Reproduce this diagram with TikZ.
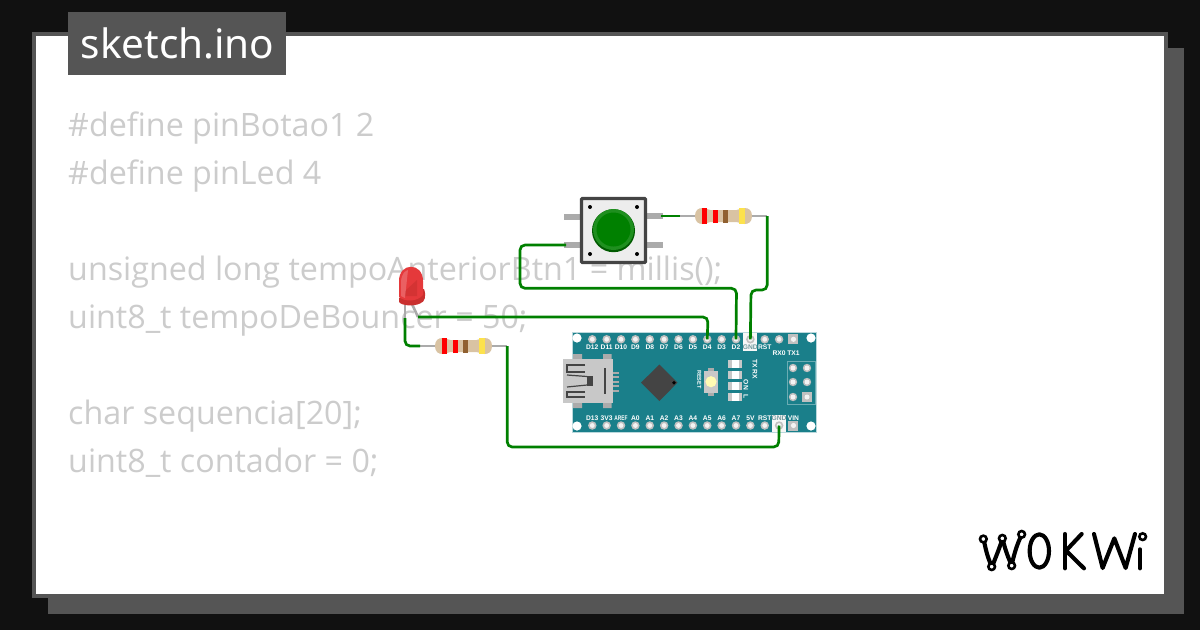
\documentclass[tikz,border=0pt]{standalone}
\usepackage{fontspec}
\setmainfont{Open Sans}
\newfontfamily\lblfont{Liberation Sans}
\newfontfamily\tagfont{Noto Sans}
\definecolor{bgdark}{HTML}{111111}
\definecolor{frame}{HTML}{555555}
\definecolor{codegray}{HTML}{CCCCCC}
\definecolor{board}{HTML}{1A7F8A}
\definecolor{wiregreen}{HTML}{008000}
\definecolor{lead}{HTML}{ABABAB}
\definecolor{resbody}{HTML}{D9C3A3}
\definecolor{chip}{HTML}{444444}
\definecolor{usb}{HTML}{C8C8C8}
\definecolor{leddome}{HTML}{E5393B}
\definecolor{ledbase}{HTML}{C9302F}
\tikzset{
  x=1pt,y=-1pt,
  wire/.style={draw=wiregreen,line width=2.7pt,rounded corners=5pt},
  code/.style={anchor=base west,inner sep=0pt,text=codegray,font=\fontsize{32.25}{32.25}\selectfont},
  pin/.style={circle,inner sep=0pt,minimum size=8.5pt,fill=lead!75!white,draw=none},
  lbl/.style={inner sep=0pt,text=white,font=\lblfont\bfseries\fontsize{6.7}{6.7}\selectfont},
  reslead/.style={draw=lead,line width=2.5pt},
  logo/.style={draw=black,line width=4.1pt,line cap=round,line join=round},
  ring/.style={draw=black,line width=2.6pt,fill=white},
}
\newcommand{\resistorpart}[3]{%
  \node[inner sep=0pt,minimum width=57pt,minimum height=16pt] (#1) at (#2,#3) {};
  \coordinate (#1l) at (#2-43.5,#3);
  \coordinate (#1r) at (#2+43.7,#3);
  \begin{scope}[shift={(#2,#3)}]
    \draw[reslead] (-43.5,0) -- (43.7,0);
    \fill[resbody] (-28.5,0) .. controls (-28.5,-6) and (-25,-8) .. (-21,-8)
      .. controls (-17,-8) and (-16,-6) .. (-13,-6) -- (13,-6)
      .. controls (16,-6) and (17,-8) .. (21,-8)
      .. controls (25,-8) and (28.5,-6) .. (28.5,0)
      .. controls (28.5,6) and (25,8) .. (21,8)
      .. controls (17,8) and (16,6) .. (13,6) -- (-13,6)
      .. controls (-16,6) and (-17,8) .. (-21,8)
      .. controls (-25,8) and (-28.5,6) .. (-28.5,0) -- cycle;
    \fill[red] (-21.5,-8) rectangle (-16.5,8);
    \fill[red] (-10.5,-6.5) rectangle (-5.5,6.5);
    \fill[brown!75!black] (-0.5,-6.5) rectangle (4.5,6.5);
    \fill[yellow!75!orange!70!white] (15.5,-8) rectangle (21.5,8);
  \end{scope}
}
\begin{document}
\begin{tikzpicture}
\useasboundingbox (0,0) rectangle (1200,630);
\fill[bgdark] (0,0) rectangle (1200,630);
\fill[frame] (48,48) rectangle (1184,614);
\fill[white,draw=frame,line width=4pt] (34,34) rectangle (1166,596);
\fill[frame] (68,12) rectangle (286,75);
\node[anchor=base west,inner sep=0pt,text=white,font=\tagfont\fontsize{40.5}{40.5}\selectfont] (tag) at (80.5,58) {sketch.ino};

\node[code] (c1) at (68,136) {\#define pinBotao1 2};
\node[code] (c2) at (68,184.3) {\#define pinLed 4};
\node[code] (c3) at (68,280.5) {unsigned long tempoAnteriorBtn1 = millis();};
\node[code] (c4) at (68,328.5) {uint8\_t tempoDeBouncer = 50;};
\node[code] (c5) at (68,424.5) {char sequencia[20];};
\node[code] (c6) at (68,472.5) {uint8\_t contador = 0;};

% --- Arduino Nano
\node[inner sep=0pt,minimum width=244pt,minimum height=99.5pt,fill=board] (nano) at (694,382.5) {};
\draw[white!70!board,line width=.5pt] (nano.north west) rectangle (nano.south east);
\foreach \hx/\hy in {577/338,811/338,577/426,811/426} \fill[white] (\hx,\hy) circle (4.6);
\fill[white!90!lead] (743.3,332.5) rectangle (757,351);
\fill[white!90!lead] (772,415) rectangle (786,432);
\foreach \n [count=\i from 0] in {D12,D11,D10,D9,D8,D7,D6,D5,D4,D3,D2,GND,RST,RX0,TX1}{
  \pgfmathsetmacro{\px}{592.3+14.37*\i}
  \ifnum\i<14
    \node[pin] (t\i) at (\px,339.3) {};
    \fill[white!85!lead] (\px,339.3) circle (2.4);
  \else
    \node[inner sep=0pt,minimum size=10pt,fill=lead!75!white] (t\i) at (\px,339.3) {};
    \fill[white!85!lead] (\px,339.3) circle (2.6);
  \fi
  \ifnum\i<13
    \ifnum\i=11
      \node[lbl,text=lead!60!board] at (\px,347) {\n};
    \else
      \node[lbl] at (\px,347) {\n};
    \fi
  \else
    \node[lbl] at (\px,353) {\n};
  \fi
}
\foreach \n [count=\i from 0] in {D13,3V3,AREF,A0,A1,A2,A3,A4,A5,A6,A7,5V,RST,GND,VIN}{
  \pgfmathsetmacro{\px}{592.3+14.37*\i}
  \ifnum\i<14
    \node[pin] (b\i) at (\px,425.5) {};
    \fill[white!85!lead] (\px,425.5) circle (2.4);
  \else
    \node[inner sep=0pt,minimum size=10pt,fill=lead!75!white] (b\i) at (\px,425.5) {};
    \fill[white!85!lead] (\px,425.5) circle (2.6);
  \fi
  \ifnum\i=13
    \node[lbl,text=lead!60!board] at (\px,418) {\n};
  \else
    \ifnum\i=2
      \node[lbl,xscale=.72] at (\px,418) {\n};
    \else
      \node[lbl] at (\px,418) {\n};
    \fi
  \fi
}
% USB
\fill[lead] (573,354) rectangle (582,408) (603,354) rectangle (611.5,408);
\draw[lead,line width=2.2pt] (612,372.7) -- (618.5,372.7) (612,377.2) -- (618.5,377.2) (612,381.7) -- (618.5,381.7) (612,386.2) -- (618.5,386.2) (612,390.7) -- (618.5,390.7);
\node[inner sep=0pt,minimum width=50pt,minimum height=44pt,fill=usb] (usbc) at (588,381) {};
\draw[chip,line width=1.5pt] (585,365) -- (567,365) -- (567,372) -- (585,372);
\draw[chip,line width=1.5pt] (585,392) -- (567,392) -- (567,397) -- (585,397);
\draw[chip,line width=1.2pt] (567,375) -- (587,376.5) (567,387) -- (587,385);
\fill[chip] (587,376) rectangle (593,386);
\draw[chip,line width=1.6pt] (605,368) -- (605,394);
% chip
\fill[chip] (659.3,364.5) -- (677.5,382.7) -- (659.3,401) -- (641,382.7) -- cycle;
\fill[black] (674,382.7) circle (1.9);
% reset
\fill[lead] (708,368) rectangle (714,396);
\node[inner sep=0pt,minimum width=14pt,minimum height=22pt,fill=usb] (rst) at (711,382) {};
\fill[white!70!yellow] (711,381.7) circle (5.6);
\node[lbl,rotate=-90,font=\lblfont\bfseries\fontsize{5.6}{5.6}\selectfont] at (699.3,379.5) {RESET};
% leds
\foreach \ly in {364,375,386,397}{
  \fill[usb] (727.7,\ly-4) rectangle (742.3,\ly+4);
  \fill[white] (731.5,\ly-4) rectangle (738.5,\ly+4);
}
\node[lbl,rotate=-90] at (755,363.3) {TX};
\node[lbl,rotate=-90] at (755,374) {RX};
\node[lbl,rotate=-90] at (746,385) {ON};
\node[lbl,rotate=-90] at (746,397) {L};
% ICSP
\draw[white!35!board,line width=.8pt] (787,361) rectangle (815,404);
\foreach \ix/\iy in {793/368,807/368,793/382,807/382,793/397}{
  \fill[lead!75!white] (\ix,\iy) circle (4.2);
  \fill[white!85!lead] (\ix,\iy) circle (2.5);
}
\fill[lead!75!white] (802,392) rectangle (812,402);
\fill[white!85!lead] (807,397) circle (2.5);

% --- Pushbutton
\fill[lead] (564,214) rectangle (580,220);
\fill[lead] (564,242) rectangle (580,248);
\fill[lead] (647,213) rectangle (663,219);
\fill[lead] (647,242) rectangle (663,248);
\coordinate (btnL) at (566,245);
\coordinate (btnR) at (661,216);
\node[inner sep=0pt,minimum width=64pt,minimum height=64pt,fill=white!93!black,draw=chip,line width=3.2pt,rounded corners=.8pt] (btn) at (613.5,230.5) {};
\foreach \cx/\cy in {590/207,637/207,590/254,637/254} \fill[black] (\cx,\cy) circle (2);
\fill[wiregreen!70!black] (613.5,230.7) circle (21.5);
\fill[wiregreen!88!white] (613.5,229.5) circle (20.5);
\fill[wiregreen] (613.5,229.5) circle (17);

% --- LED
\coordinate (ledA) at (405,305);
\coordinate (ledC) at (418,317);
\draw[lead,line width=2.6pt] (ledA) -- (405,320);
\draw[lead,line width=2.6pt] (412,304) -- (ledC);
\fill[ledbase] (399,298) -- (399,302) .. controls (402,306) and (414,306.5) .. (420,303.5) .. controls (425,302) and (426.5,296) .. (424,289) -- (420,289) -- cycle;
\fill[leddome] (399,281) .. controls (399,262) and (423,262) .. (423,281) -- (423,295) .. controls (417,302) and (405,302) .. (399,297) -- cycle;
\fill[ledbase,opacity=.6] (405,291) -- (417,280) -- (417,296) -- (405,296) -- cycle;
\fill[white,opacity=.2] (401,281) .. controls (402,273) and (405,271) .. (408,270) -- (405,298) -- (401,296) -- cycle;

% --- Resistors
\resistorpart{r1}{723.5}{216}
\resistorpart{r2}{463.5}{346}

% --- Wires
\draw[wire] (btnL) -- (520,245) -- (520,288.3) -- (736.5,288.3) -- (t10.center);
\draw[wire,rounded corners=0pt] (btnR) -- (r1l);
\draw[wire] (r1r) -- (767.2,290) -- (751,290) -- (t11.center);
\draw[wire] (ledC) -- (708,317) -- (t8.center);
\draw[wire] (405,318) -- (405,346) -- (r2l);
\draw[wire] (r2r) -- (507.2,447) -- (778.7,447) -- (b13.center);

% --- Logo
\begin{scope}[shift={(960,510)},x=.3333pt,y=-.3333pt]
  \draw[logo] (72,92) .. controls (78,125) and (86,150) .. (95,168);
  \draw[logo] (97,168) .. controls (108,140) and (118,115) .. (127,88);
  \draw[logo] (128,88) .. controls (136,120) and (145,145) .. (155,165);
  \draw[logo] (155,165) .. controls (163,130) and (172,100) .. (185,75);
  \foreach \rx/\ry in {70/87,127/85,185/73,95/170,155/167} \draw[ring] (\rx,\ry) circle (10);
  \draw[logo] (238,123) ellipse (29 and 50);
  \draw[logo] (315,72) -- (315,175);
  \draw[logo] (365,72) -- (318,122) -- (372,175);
  \draw[logo] (402,72) -- (428,174) -- (463,85) -- (497,174) -- (525,72);
  \draw[logo] (540,118) -- (540,175);
  \draw[ring] (548,80) circle (10);
\end{scope}
\end{tikzpicture}
\end{document}
